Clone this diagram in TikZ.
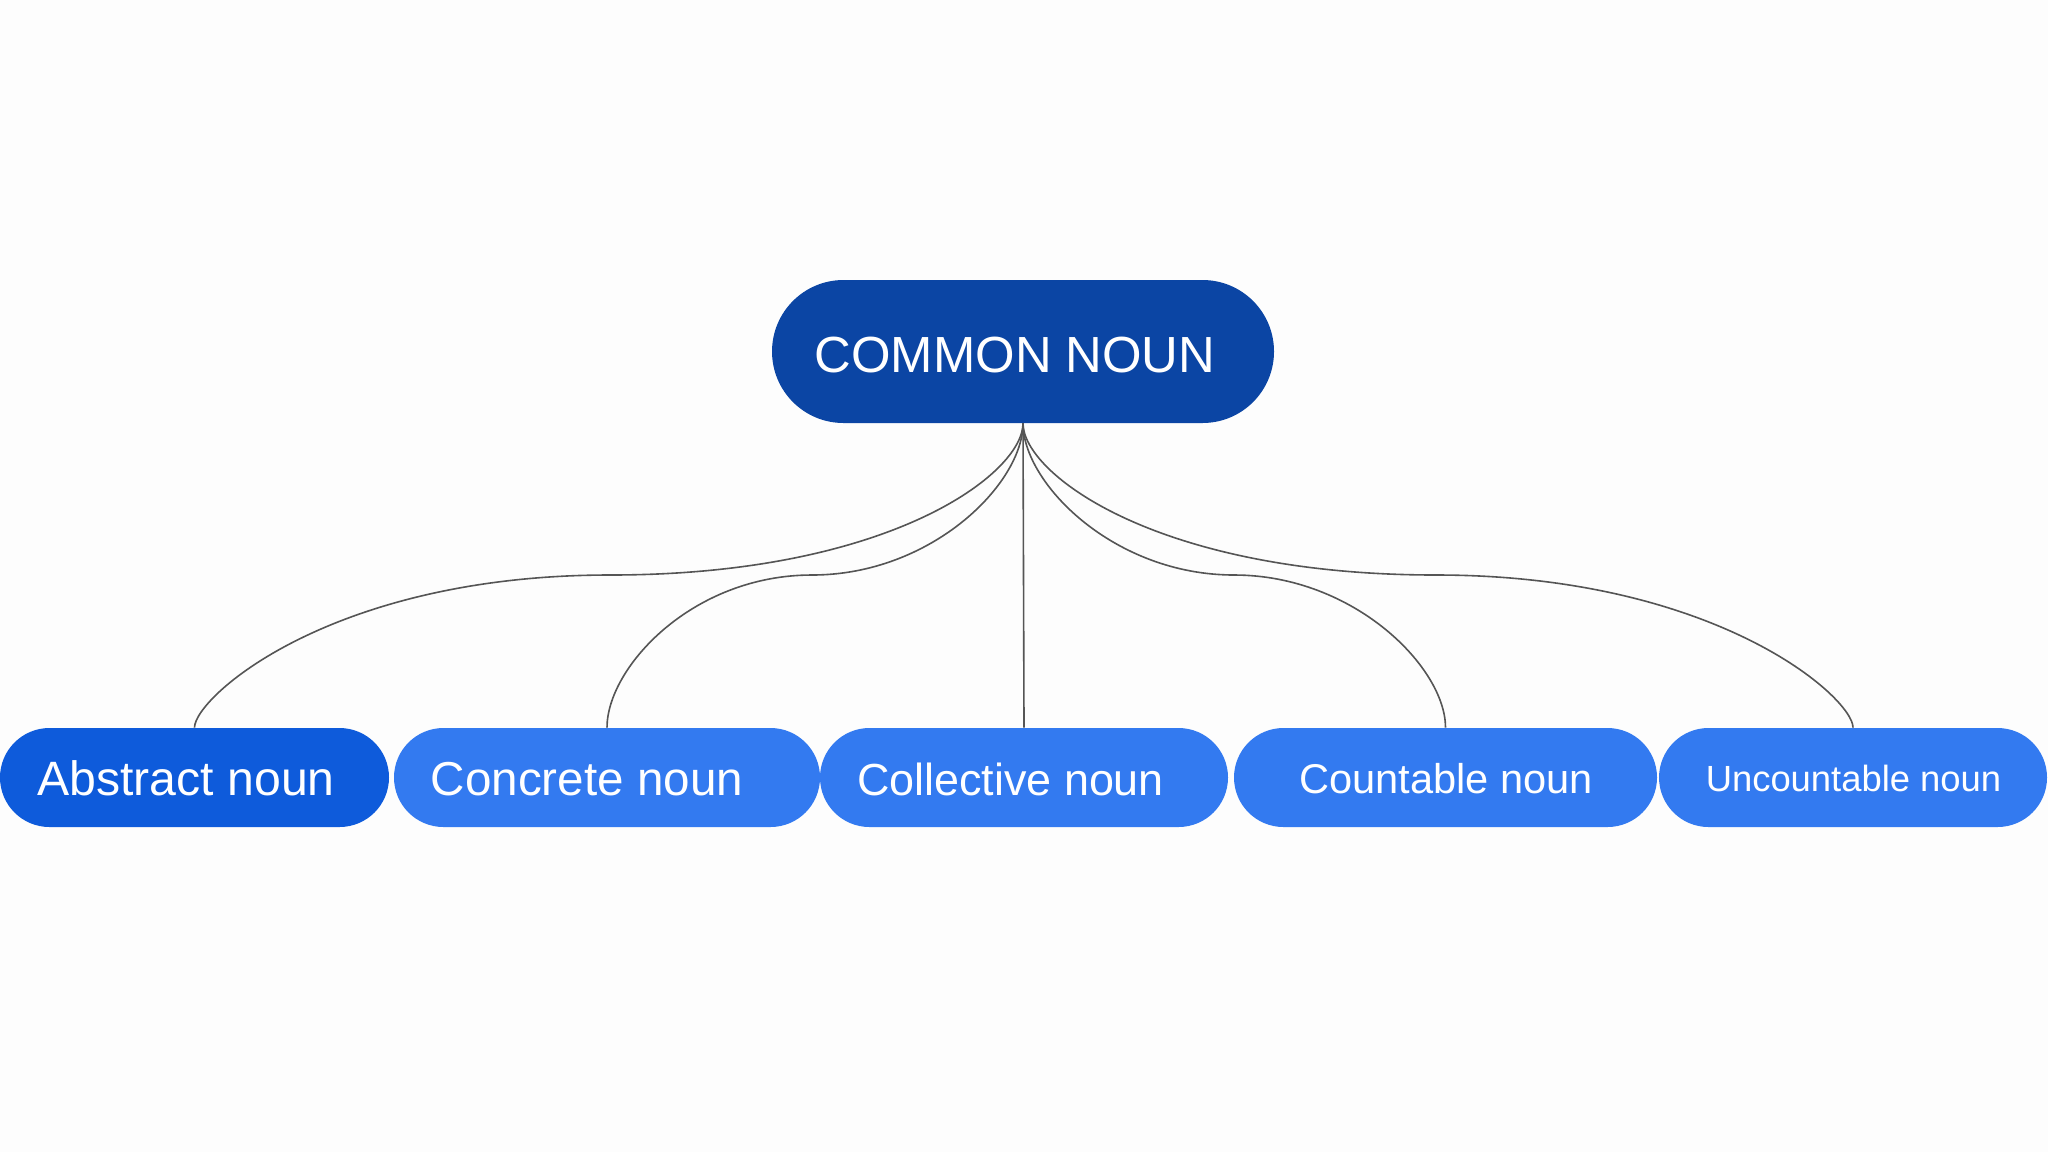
\documentclass[tikz,border=0pt]{standalone}
\usepackage{fontspec}
\setmainfont{Liberation Sans}
\usetikzlibrary{shapes.misc}
\definecolor{bgc}{RGB}{253,253,253}
\definecolor{rootc}{RGB}{11,69,164}
\definecolor{absc}{RGB}{14,91,219}
\definecolor{lightc}{RGB}{51,122,240}
\definecolor{linec}{RGB}{85,85,85}
\tikzset{
  pill/.style={rounded rectangle, inner sep=0pt, draw=none},
  childpill/.style={pill, fill=lightc, minimum height=49.5pt},
  lbl/.style={text=white, inner sep=0pt, anchor=base},
  conn/.style={draw=linec, line width=0.8pt},
}
\begin{document}
\begin{tikzpicture}[x=0.5pt,y=-0.5pt]
\fill[bgc] (0,0) rectangle (2048,1152);
\useasboundingbox (0,0) rectangle (2048,1152);
% nodes
\node[pill, fill=rootc, minimum width=251pt, minimum height=71.5pt] (root) at (1023,351.5) {};
\node[childpill, fill=absc, minimum width=194.5pt] (abs) at (194.5,777.5) {};
\node[childpill, minimum width=213pt] (conc) at (607,777.5) {};
\node[childpill, minimum width=204pt] (coll) at (1024,777.5) {};
\node[childpill, minimum width=211.5pt] (count) at (1445.5,777.5) {};
\node[childpill, minimum width=194pt] (unc) at (1853,777.5) {};
% labels
\node[lbl, font=\fontsize{25.4pt}{30pt}\selectfont] (troot) at (1015,372) {COMMON NOUN};
\node[lbl, font=\fontsize{24.1pt}{29pt}\selectfont] (tabs) at (186,795) {Abstract noun};
\node[lbl, font=\fontsize{23.8pt}{29pt}\selectfont] (tconc) at (587,795) {Concrete noun};
\node[lbl, font=\fontsize{22.45pt}{27pt}\selectfont] (tcoll) at (1010.5,795) {Collective noun};
\node[lbl, font=\fontsize{20.8pt}{25pt}\selectfont] (tcount) at (1446,793) {Countable noun};
\node[lbl, font=\fontsize{18.2pt}{22pt}\selectfont] (tunc) at (1853.5,791) {Uncountable noun};
% mid points
\coordinate (mabs) at (610,575);
\coordinate (mconc) at (812,575);
\coordinate (mcount) at (1234,575);
\coordinate (munc) at (1436,575);
% connectors
\draw[conn] (root.south) .. controls +(0,50) and +(280,0) .. (mabs)
  .. controls +(-280,0) and +(0,-30) .. (abs.north);
\draw[conn] (root.south) .. controls +(0,60) and +(120,0) .. (mconc)
  .. controls +(-120,0) and +(0,-60) .. (conc.north);
\draw[conn] (root.south) -- (coll.north);
\draw[conn] (root.south) .. controls +(0,60) and +(-120,0) .. (mcount)
  .. controls +(120,0) and +(0,-60) .. (count.north);
\draw[conn] (root.south) .. controls +(0,50) and +(-280,0) .. (munc)
  .. controls +(280,0) and +(0,-30) .. (unc.north);
\end{tikzpicture}
\end{document}
